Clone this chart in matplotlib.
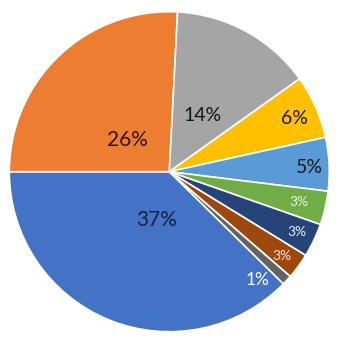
import matplotlib.pyplot as plt
import numpy as np

values = [37.6, 25.8, 14.3, 6.4, 5.4, 3.4, 3.4, 2.6, 1.0]
labels = ['37%', '26%', '14%', '6%', '5%', '3%', '3%', '3%', '1%']
colors = ['#4472C4', '#ED7D31', '#A5A5A5', '#FFC000', '#5B9BD5',
          '#70AD47', '#264478', '#9E480E', '#636363']
label_colors = ['#17223a', '#2a170c', '#151515', '#1a1a1a', '#111a26',
                '#E8F3E0', '#E6ECF7', '#FBE3D3', 'white']
label_sizes = [15, 15, 14, 14, 14, 10, 10, 10, 12.5]
label_radius = [0.31, 0.33, 0.41, 0.85, 0.875, 0.835, 0.885, 0.88, 0.875]
label_shift = [8, 9, -2, -1, -1, 0, 0, -0.5, -8]  # degrees, nudges off the wedge middle

fig = plt.figure(figsize=(3.37, 3.39), dpi=100)
ax = fig.add_axes([9.3 / 337, 7.3 / 339, 320 / 337, 320 / 339])

frac0 = values[0] / sum(values)
wedges, _ = ax.pie(values, colors=colors, startangle=-180 + 360 * frac0,
                   counterclock=False, radius=1,
                   wedgeprops=dict(edgecolor='white', linewidth=1.2))
ax.set_xlim(-1, 1)
ax.set_ylim(-1, 1)

for w, lab, c, s, r, sh in zip(wedges, labels, label_colors, label_sizes,
                               label_radius, label_shift):
    mid = np.deg2rad((w.theta1 + w.theta2) / 2 + sh)
    ax.text(r * np.cos(mid), r * np.sin(mid), lab, ha='center', va='center',
            color=c, fontsize=s, family=['Lato', 'DejaVu Sans'])

fig.savefig('out.png', dpi=100)
